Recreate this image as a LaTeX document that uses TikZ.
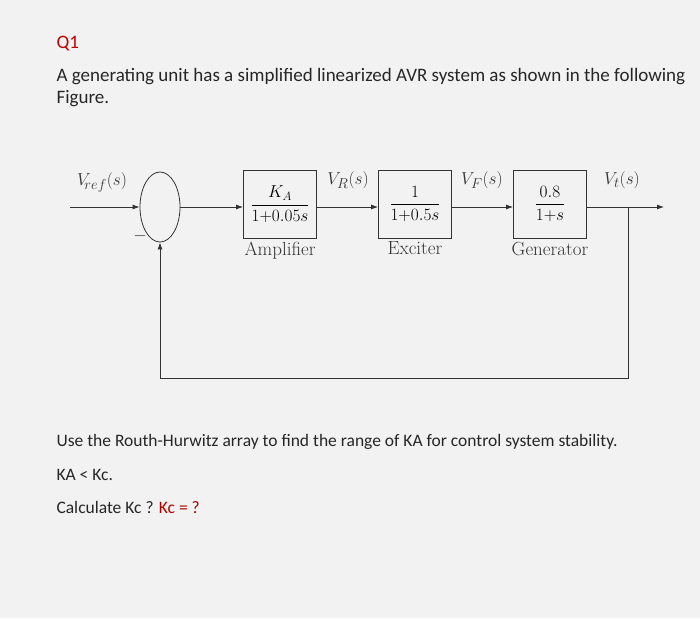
\documentclass[tikz,border=0pt]{standalone}
\usepackage{fontspec}
\setmainfont{Carlito}
\usetikzlibrary{arrows.meta,shapes.geometric}
\begin{document}
\begin{tikzpicture}[x=1pt,y=-1pt,
  blk/.style={draw=black!80,line width=0.8pt,minimum width=73pt,minimum height=68pt,inner sep=0pt,font=\fontsize{17}{17}\selectfont},
  sig/.style={draw=black!80,line width=0.8pt,-{Latex[length=7pt,width=5pt]}},
  ln/.style={draw=black!80,line width=0.8pt},
  lab/.style={font=\fontsize{19}{19}\selectfont,text=black!80},
  txt/.style={anchor=west,font=\fontsize{17.5}{20}\selectfont,text=black!85}]
\fill[black!5] (0,0) rectangle (700,618);
\useasboundingbox (0,0) rectangle (700,618);
\node[anchor=west,text=red!75!black,font=\fontsize{19}{19}\selectfont] (q) at (53,44) {Q1};
\node[txt,font=\fontsize{19}{20}\selectfont] (p1) at (53,77) {A generating unit has a simplified linearized AVR system as shown in the following};
\node[txt,font=\fontsize{19}{20}\selectfont] (p2) at (53,99) {Figure.};
\node[draw=black!80,line width=0.8pt,ellipse,minimum width=40pt,minimum height=70pt,inner sep=0pt] (c) at (160,207) {};
\node[blk] (a) at (280,204) {$\displaystyle\frac{K_A}{1{+}0.05s}$};
\node[blk] (e) at (415,204) {$\displaystyle\frac{1}{1{+}0.5s}$};
\node[blk] (g) at (550,204) {$\displaystyle\frac{0.8}{1{+}s}$};
\node[lab,anchor=north] (al) at (a.south) {\fontfamily{lmr}\selectfont Amplifier};
\node[lab,anchor=north] (el) at (e.south) {\fontfamily{lmr}\selectfont Exciter};
\node[lab,anchor=north] (gl) at (g.south) {\fontfamily{lmr}\selectfont Generator};
\coordinate (in) at (70,207);
\coordinate (out) at (664,207);
\coordinate (tap) at (628,207);
\coordinate (fb1) at (628,378);
\coordinate (fb2) at (160,378);
\node[lab] (vref) at (102,182) {$V_{\!ref}(s)$};
\node[lab] (vr) at (348,180) {$V_R(s)$};
\node[lab] (vf) at (482,180) {$V_F(s)$};
\node[lab] (vt) at (622,180) {$V_t(s)$};
\node[lab] (minus) at (140,236) {$-$};
\draw[sig] (in) -- (c.west);
\draw[sig] (c.east) -- (a.west|-c.east);
\draw[sig] (a.east|-in) -- (e.west|-in);
\draw[sig] (e.east|-in) -- (g.west|-in);
\draw[sig] (g.east|-in) -- (out);
\draw[ln] (tap) -- (fb1) -- (fb2);
\draw[sig] (fb2) -- (c.south);
\node[txt] (t1) at (53,442) {Use the Routh-Hurwitz array to find the range of KA for control system stability.};
\node[txt] (t2) at (53,475) {KA < Kc.};
\node[txt] (t3) at (53,507) {Calculate Kc ? \textcolor{red!70!black}{Kc = ?}};
\end{tikzpicture}
\end{document}
